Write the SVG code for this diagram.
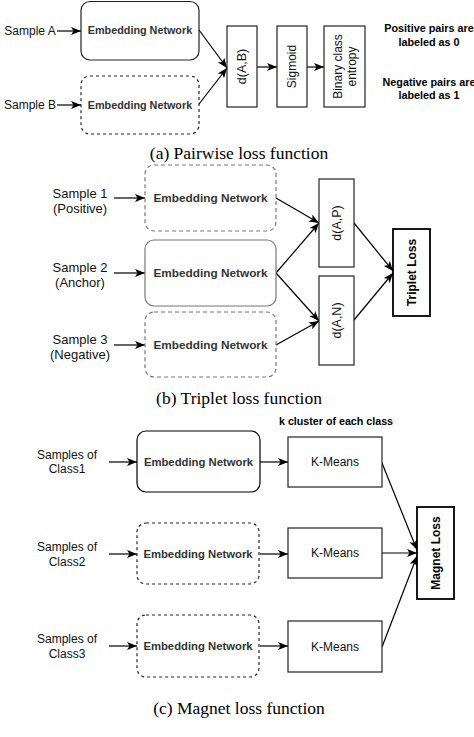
<svg xmlns="http://www.w3.org/2000/svg" width="474" height="737" viewBox="0 0 474 737">
<defs>
<marker id="ah" markerUnits="userSpaceOnUse" markerWidth="10" markerHeight="8" refX="10" refY="4" orient="auto"><path d="M0,0 L10,4 L0,8 L2.5,4 z" fill="#000"/></marker>
</defs>
<style>
.lbl{font-family:"Liberation Sans",Arial,sans-serif;fill:#111;text-anchor:middle;dominant-baseline:central}
.emb{font-family:"Liberation Sans",Arial,sans-serif;font-weight:bold;fill:#333;text-anchor:middle;dominant-baseline:central}
.bold{font-family:"Liberation Sans",Arial,sans-serif;font-weight:bold;fill:#000;text-anchor:middle;dominant-baseline:central}
.cap{font-family:"Liberation Serif","Times New Roman",serif;font-size:17.5px;fill:#000;text-anchor:middle}
.box{fill:#fff;stroke:#222;stroke-width:1.2}
.grey{fill:#fff;stroke:#777;stroke-width:1.2}
.thick{fill:#fff;stroke:#000;stroke-width:1.8}
.dash{stroke-dasharray:3,3}
.dashg{stroke-dasharray:4,3}
.conn{stroke:#000;stroke-width:1.2;fill:none;marker-end:url(#ah)}
</style>
<rect width="474" height="737" fill="#fff"/>

<g id="connectors">
<path class="conn" d="M57,31 L81,31"/>
<path class="conn" d="M57,105 L81,105"/>
<path class="conn" d="M199,30 L227,68"/>
<path class="conn" d="M199,104 L227,68"/>
<path class="conn" d="M257,67 L277,67"/>
<path class="conn" d="M307,67 L324,67"/>
<path class="conn" d="M114,198 L145,198"/>
<path class="conn" d="M114,273 L145,273"/>
<path class="conn" d="M114,345 L145,345"/>
<path class="conn" d="M276,198 L319,223"/>
<path class="conn" d="M276,273 L319,223"/>
<path class="conn" d="M276,273 L319,321"/>
<path class="conn" d="M276,345 L319,321"/>
<path class="conn" d="M354,223 L393,271"/>
<path class="conn" d="M354,320 L393,273"/>
<path class="conn" d="M109,462 L137,462"/>
<path class="conn" d="M109,554 L137,554"/>
<path class="conn" d="M109,646 L137,646"/>
<path class="conn" d="M260,462 L288,462"/>
<path class="conn" d="M260,554 L288,554"/>
<path class="conn" d="M260,646 L288,646"/>
<path class="conn" d="M382,463 L417,550"/>
<path class="conn" d="M382,553 L417,553"/>
<path class="conn" d="M382,647 L417,556"/>
</g>

<!-- (a) Pairwise -->
<g id="sampleA"><text class="lbl" x="30" y="31" font-size="12">Sample A</text></g>
<g id="sampleB"><text class="lbl" x="30" y="105" font-size="12">Sample B</text></g>
<g id="embA"><rect class="box" x="81" y="1.5" width="118" height="58.5" rx="9"/><text class="emb" x="140" y="30" font-size="10.8">Embedding Network</text></g>
<g id="embB"><rect class="box dash" x="81" y="76" width="118" height="58" rx="9"/><text class="emb" x="140" y="105" font-size="10.8">Embedding Network</text></g>
<g id="dAB"><rect class="box" x="227" y="26" width="30" height="81"/><text class="lbl" transform="translate(242,66.5) rotate(-90)" font-size="12.5">d(A,B)</text></g>
<g id="sigmoid"><rect class="box" x="277" y="26" width="30" height="81"/><text class="lbl" transform="translate(292,66.5) rotate(-90)" font-size="12">Sigmoid</text></g>
<g id="bce"><rect class="box" x="324" y="26" width="41" height="81"/><text class="lbl" transform="translate(337.5,66.5) rotate(-90)" font-size="12">Binary class</text><text class="lbl" transform="translate(352,66.5) rotate(-90)" font-size="12">entropy</text></g>
<g id="notes">
<text class="bold" x="429" y="28" font-size="10.8">Positive pairs are</text>
<text class="bold" x="429" y="42" font-size="10.8">labeled as 0</text>
<text class="bold" x="429" y="82" font-size="10.8">Negative pairs are</text>
<text class="bold" x="429" y="95" font-size="10.8">labeled as 1</text>
</g>
<text class="cap" x="239" y="159">(a) Pairwise loss function</text>

<!-- (b) Triplet -->
<g id="sample1"><text class="lbl" x="80" y="193" font-size="13">Sample 1</text><text class="lbl" x="80" y="208" font-size="13">(Positive)</text></g>
<g id="sample2"><text class="lbl" x="80" y="267" font-size="13">Sample 2</text><text class="lbl" x="80" y="282" font-size="13">(Anchor)</text></g>
<g id="sample3"><text class="lbl" x="80" y="339" font-size="13">Sample 3</text><text class="lbl" x="80" y="354" font-size="13">(Negative)</text></g>
<g id="emb1"><rect class="grey dashg" x="145" y="165" width="131" height="66" rx="9"/><text class="emb" x="210.5" y="198" font-size="11.8">Embedding Network</text></g>
<g id="emb2"><rect class="grey" x="145" y="240" width="131" height="66" rx="9"/><text class="emb" x="210.5" y="273" font-size="11.8">Embedding Network</text></g>
<g id="emb3"><rect class="grey dashg" x="145" y="312" width="131" height="65" rx="9"/><text class="emb" x="210.5" y="345" font-size="11.8">Embedding Network</text></g>
<g id="dAP"><rect class="box" x="319" y="179" width="35" height="88"/><text class="lbl" transform="translate(336.5,223) rotate(-90)" font-size="12.5">d(A,P)</text></g>
<g id="dAN"><rect class="box" x="319" y="276" width="35" height="89"/><text class="lbl" transform="translate(336.5,320.5) rotate(-90)" font-size="12.5">d(A,N)</text></g>
<g id="triplet"><rect class="thick" x="393" y="229" width="37" height="87"/><text class="bold" transform="translate(411.5,272.5) rotate(-90)" font-size="12">Triplet Loss</text></g>
<text class="cap" x="239" y="404">(b) Triplet loss function</text>

<!-- (c) Magnet -->
<g id="kcluster"><text class="bold" x="336" y="421" font-size="10.7">k cluster of each class</text></g>
<g id="class1"><text class="lbl" x="67" y="455" font-size="12">Samples of</text><text class="lbl" x="67" y="469" font-size="12">Class1</text></g>
<g id="class2"><text class="lbl" x="67" y="547" font-size="12">Samples of</text><text class="lbl" x="67" y="562" font-size="12">Class2</text></g>
<g id="class3"><text class="lbl" x="67" y="639" font-size="12">Samples of</text><text class="lbl" x="67" y="654" font-size="12">Class3</text></g>
<g id="embC1"><rect class="box" x="137" y="431" width="123" height="61" rx="9" style="stroke:#000"/><text class="emb" x="198.5" y="462" font-size="11.3">Embedding Network</text></g>
<g id="embC2"><rect class="box dash" x="137" y="523" width="122" height="61" rx="9"/><text class="emb" x="198" y="554" font-size="11.3">Embedding Network</text></g>
<g id="embC3"><rect class="box dash" x="137" y="615" width="122" height="62" rx="9"/><text class="emb" x="198" y="646" font-size="11.3">Embedding Network</text></g>
<g id="km1"><rect class="box" x="288" y="437" width="94" height="50"/><text class="lbl" x="335" y="462" font-size="12">K-Means</text></g>
<g id="km2"><rect class="box" x="288" y="528" width="94" height="50"/><text class="lbl" x="335" y="553" font-size="12">K-Means</text></g>
<g id="km3"><rect class="box" x="288" y="621" width="94" height="51"/><text class="lbl" x="335" y="646.5" font-size="12">K-Means</text></g>
<g id="magnet"><rect class="thick" x="417" y="507" width="37" height="92"/><text class="bold" transform="translate(435.5,553) rotate(-90)" font-size="12">Magnet Loss</text></g>
<text class="cap" x="239" y="714">(c) Magnet loss function</text>
</svg>
